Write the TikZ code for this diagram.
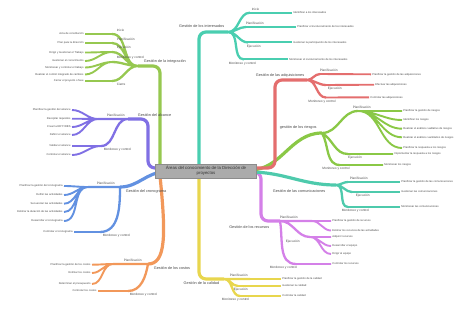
\documentclass[tikz,border=0pt]{standalone}
\usepackage{fontspec}
\setmainfont{Liberation Sans}
\usetikzlibrary{backgrounds}
\definecolor{IntegGreen}{RGB}{150,200,80}
\definecolor{ScopePurple}{RGB}{128,112,228}
\definecolor{TimeBlue}{RGB}{98,145,225}
\definecolor{CostOrange}{RGB}{242,152,90}
\definecolor{QualYellow}{RGB}{232,214,78}
\definecolor{ResMagenta}{RGB}{212,128,232}
\definecolor{CommTeal}{RGB}{78,202,172}
\definecolor{RiskGreen}{RGB}{138,200,70}
\definecolor{ProcRed}{RGB}{228,110,110}
\definecolor{StakeTeal}{RGB}{74,206,176}

\begin{document}
\begin{tikzpicture}[x=1pt, y=-1pt, line cap=round,
  leaftxt/.style={font=\fontsize{2.7}{3}\selectfont, text=black!72, inner sep=1.2pt},
  subtxt/.style={font=\fontsize{3.2}{3.6}\selectfont, text=black!70, inner sep=0.6pt},
  areatxt/.style={font=\fontsize{3.8}{4.4}\selectfont, text=black!72, inner sep=0.6pt},
  centerbox/.style={draw=black!45, fill=black!33, text=black!80, align=center, minimum width=101pt, minimum height=14pt, inner sep=1pt, font=\fontsize{4.3}{5}\selectfont},
  trunk/.style={line width=3.2pt, rounded corners=7pt}, twig/.style={line width=2.3pt}, leafln/.style={line width=1.9pt}]
\useasboundingbox (0,0) rectangle (474,309);
\node[centerbox] (ctr) at (206,171) {Áreas del conocimiento de la Dirección de\\proyectos};
% integracion
\coordinate (ig0) at (160,168); \coordinate (igh) at (138,66);
\node[areatxt, anchor=south west] (igL) at (143,64.4) {Gestión de la integración};
\coordinate (ig1) at (112,34); \coordinate (ig2) at (112,43); \coordinate (ig3) at (112,52); \coordinate (ig4) at (112,62); \coordinate (ig5) at (112,81);
\node[subtxt, anchor=south west] (igIn) at (116,32.4) {Inicio};
\node[subtxt, anchor=south west] (igPl) at (116,41.4) {Planificación};
\node[subtxt, anchor=south west] (igEj) at (116,50.4) {Ejecución};
\node[subtxt, anchor=south west] (igMo) at (116,60.4) {Monitoreo y control};
\node[subtxt, anchor=north west] (igCi) at (116,82.6) {Cierre};
\node[leaftxt, anchor=east] (igA) at (85,34) {Acta de constitución};
\node[leaftxt, anchor=east] (igB) at (85,43) {Plan para la dirección};
\node[leaftxt, anchor=east] (igC) at (85,52.5) {Dirigir y Gestionar el Trabajo};
\node[leaftxt, anchor=east] (igD) at (85,61) {Gestionar el conocimiento};
\node[leaftxt, anchor=east] (igE) at (85,67.5) {Monitorear y controlar el trabajo};
\node[leaftxt, anchor=east] (igF) at (85,74.5) {Realizar el control integrado de cambios};
\node[leaftxt, anchor=east] (igG) at (85,81) {Cerrar el proyecto o fase};
% alcance
\coordinate (al0) at (165,168); \coordinate (alh) at (128,119);
\node[areatxt, anchor=south west] (alL) at (137,117.4) {Gestión del alcance};
\coordinate (al1) at (98,119); \coordinate (al2) at (101,146);
\node[subtxt, anchor=south west] (alPl) at (106,117.4) {Planificación};
\node[subtxt, anchor=north west] (alMo) at (103,147.6) {Monitoreo y control};
\node[leaftxt, anchor=east] (alA) at (72,110) {Planificar la gestión del alcance};
\node[leaftxt, anchor=east] (alB) at (72,118.7) {Recopilar requisitos};
\node[leaftxt, anchor=east] (alC) at (72,127) {Crear la EDT/ WBS};
\node[leaftxt, anchor=east] (alD) at (72,135) {Definir el alcance};
\node[leaftxt, anchor=east] (alE) at (72,146) {Validar el alcance};
\node[leaftxt, anchor=east] (alF) at (72,155) {Controlar el alcance};
% cronograma
\coordinate (cr0) at (165,172); \coordinate (crh) at (120,187);
\node[areatxt, anchor=north west] (crL) at (125,188.6) {Gestión del cronograma};
\coordinate (cr1) at (88,187); \coordinate (cr2) at (100,232);
\node[subtxt, anchor=south west] (crPl) at (96,185.4) {Planificación};
\node[subtxt, anchor=north west] (crMo) at (102,233.6) {Monitoreo y control};
\node[leaftxt, anchor=east] (crA) at (64,186) {Planificar la gestión del cronograma};
\node[leaftxt, anchor=east] (crB) at (64,195) {Definir las actividades};
\node[leaftxt, anchor=east] (crC) at (64,203.7) {Secuenciar las actividades};
\node[leaftxt, anchor=east] (crD) at (64,212) {Estimar la duración de las actividades};
\node[leaftxt, anchor=east] (crE) at (64,221) {Desarrollar el cronograma};
\node[leaftxt, anchor=east] (crF) at (74,232) {Controlar el cronograma};
% costos
\coordinate (co0) at (160,176); \coordinate (coh) at (148,264);
\node[areatxt, anchor=north west] (coL) at (153,265.6) {Gestión de los costos};
\coordinate (co1) at (113,264); \coordinate (co2) at (128,291);
\node[subtxt, anchor=south west] (coPl) at (123,262.4) {Planificación};
\node[subtxt, anchor=north west] (coMo) at (129,292.6) {Monitoreo y control};
\node[leaftxt, anchor=east] (coA) at (92,264.7) {Planificar la gestión de los costos};
\node[leaftxt, anchor=east] (coB) at (92,273) {Estimar los costos};
\node[leaftxt, anchor=east] (coC) at (92,284) {Determinar el presupuesto};
\node[leaftxt, anchor=east] (coD) at (98,291) {Controlar los costos};
% calidad
\coordinate (ca0) at (199,172); \coordinate (cah) at (224,279);
\node[areatxt, anchor=north east] (caL) at (220,280.6) {Gestión de la calidad};
\coordinate (ca1) at (250,279); \coordinate (ca2) at (238,286); \coordinate (ca3) at (240,296);
\node[subtxt, anchor=south west] (caPl) at (229,277.4) {Planificación};
\node[subtxt, anchor=north west] (caEj) at (233,287.6) {Ejecución};
\node[subtxt, anchor=north east] (caMo) at (250,297.6) {Monitoreo y control};
\node[leaftxt, anchor=west] (caA) at (281,279) {Planificar la gestión de la calidad};
\node[leaftxt, anchor=west] (caB) at (281,286) {Gestionar la calidad};
\node[leaftxt, anchor=west] (caC) at (281,296) {Controlar la calidad};
% recursos
\coordinate (re0) at (245,172); \coordinate (reh) at (280,221);
\node[areatxt, anchor=north east] (reL) at (270,224.5) {Gestión de los recursos};
\coordinate (re1) at (312,221); \coordinate (re2) at (310,237); \coordinate (re3) at (296,264);
\node[subtxt, anchor=south west] (rePl) at (279,219.4) {Planificación};
\node[subtxt, anchor=north west] (reEj) at (285,239.6) {Ejecución};
\node[subtxt, anchor=north west] (reMo) at (269,265.6) {Monitoreo y control};
\node[leaftxt, anchor=west] (reA) at (331,221) {Planificar la gestión de recursos};
\node[leaftxt, anchor=west] (reB) at (331,230.5) {Estimar los recursos de las actividades};
\node[leaftxt, anchor=west] (reC) at (331,237) {Adquirir recursos};
\node[leaftxt, anchor=west] (reD) at (331,246) {Desarrollar el equipo};
\node[leaftxt, anchor=west] (reE) at (331,254) {Dirigir al equipo};
\node[leaftxt, anchor=west] (reF) at (331,264) {Controlar los recursos};
% comunicaciones
\coordinate (cm0) at (250,172); \coordinate (cmh) at (336,185);
\node[areatxt, anchor=north west] (cmL) at (272,188.6) {Gestión de las comunicaciones};
\coordinate (cm1) at (348,182); \coordinate (cm2) at (352,192); \coordinate (cm3) at (348,207);
\node[subtxt, anchor=south west] (cmPl) at (349,180.4) {Planificación};
\node[subtxt, anchor=north west] (cmEj) at (355,193.6) {Ejecución};
\node[subtxt, anchor=north west] (cmMo) at (341,208.6) {Monitoreo y control};
\node[leaftxt, anchor=west] (cmA) at (400,182) {Planificar la gestión de las comunicaciones};
\node[leaftxt, anchor=west] (cmB) at (400,192) {Gestionar las comunicaciones};
\node[leaftxt, anchor=west] (cmC) at (400,207) {Monitorear las comunicaciones};
% riesgos
\coordinate (ri0) at (250,170); \coordinate (rih) at (322,133);
\node[areatxt, anchor=south west] (riL) at (279,130) {gestión de los riesgos};
\coordinate (ri1) at (358,111); \coordinate (ri2) at (348,154); \coordinate (ri3) at (340,165);
\node[subtxt, anchor=south west] (riPl) at (352,109.4) {Planificación};
\node[subtxt, anchor=north] (riEj) at (355,155.6) {Ejecución};
\node[subtxt, anchor=north] (riMo) at (336,166.6) {Monitoreo y control};
\node[leaftxt, anchor=west] (riA) at (402,111) {Planificar la gestión de riesgos};
\node[leaftxt, anchor=west] (riB) at (402,120) {Identificar los riesgos};
\node[leaftxt, anchor=west] (riC) at (402,128.7) {Realizar el análisis cualitativo de riesgos};
\node[leaftxt, anchor=west] (riD) at (402,137.3) {Realizar el análisis cuantitativo de riesgos};
\node[leaftxt, anchor=west] (riE) at (402,148) {Planificar la respuesta a los riesgos};
\node[leaftxt, anchor=west] (riF) at (393,154) {Implementar la respuesta a los riesgos};
\node[leaftxt, anchor=west] (riG) at (383,165) {Monitorear los riesgos};
% adquisiciones
\coordinate (ad0) at (250,168); \coordinate (adh) at (307,80);
\node[areatxt, anchor=south east] (adL) at (305,78.4) {Gestión de las adquisiciones};
\coordinate (ad1) at (320,74); \coordinate (ad2) at (326,85); \coordinate (ad3) at (326,97.5);
\node[subtxt, anchor=south west] (adPl) at (319,72.4) {Planificación};
\node[subtxt, anchor=north west] (adEj) at (327,86.6) {Ejecución};
\node[subtxt, anchor=north] (adMo) at (322,99.1) {Monitoreo y control};
\node[leaftxt, anchor=west] (adA) at (371,74.3) {Planificar la gestión de las adquisiciones};
\node[leaftxt, anchor=west] (adB) at (374,84.7) {Efectuar las adquisiciones};
\node[leaftxt, anchor=west] (adC) at (369,97.3) {Controlar las adquisiciones};
% interesados
\coordinate (it0) at (199,168); \coordinate (ith) at (228,32);
\node[areatxt, anchor=south east] (itL) at (225,28.5) {Gestión de los interesados};
\coordinate (it1) at (250,12.7); \coordinate (it2) at (246,27); \coordinate (it3) at (248,42.4); \coordinate (it4) at (244,59.4);
\node[subtxt, anchor=south west] (itIn) at (251,11.1) {Inicio};
\node[subtxt, anchor=south west] (itPl) at (245,25.4) {Planificación};
\node[subtxt, anchor=north west] (itEj) at (246,44) {Ejecución};
\node[subtxt, anchor=north] (itMo) at (242.5,61) {Monitoreo y control};
\node[leaftxt, anchor=west] (itA) at (292,12.7) {Identificar a los interesados};
\node[leaftxt, anchor=west] (itB) at (296,27) {Planificar el involucramiento de los interesados};
\node[leaftxt, anchor=west] (itC) at (292,42.4) {Gestionar la participación de los interesados};
\node[leaftxt, anchor=west] (itD) at (288,59.4) {Monitorear el involucramiento de los interesados};
\begin{scope}[on background layer]
\draw[trunk, IntegGreen] (ig0) |- (igh);
\draw[twig, IntegGreen] (igh) to[out=180, in=0] (ig1) (igh) to[out=180, in=0] (ig2) (igh) to[out=180, in=0] (ig3) (igh) to[out=180, in=0] (ig4) (igh) to[out=180, in=0] (ig5);
\draw[leafln, IntegGreen] (ig1) -- (igA.east) (ig2) -- (igB.east) (ig3) to[out=180, in=0] (igC.east) (ig3) to[out=180, in=0] (igD.east) (ig4) to[out=180, in=0] (igE.east) (ig4) to[out=180, in=0] (igF.east) (ig5) -- (igG.east);
\draw[trunk, ScopePurple] (al0) -- ++(-17,0) |- (alh);
\draw[twig, ScopePurple] (alh) -- (al1) (alh) to[out=180, in=0] (al2);
\draw[leafln, ScopePurple] (al1) to[out=180, in=0] (alA.east) (al1) to[out=180, in=0] (alB.east) (al1) to[out=180, in=0] (alC.east) (al1) to[out=180, in=0] (alD.east) (al2) -- (alE.east) (al2) to[out=180, in=0] (alF.east);
\draw[trunk, TimeBlue] (cr0) to[out=180, in=0] (crh);
\draw[twig, TimeBlue] (crh) -- (cr1) (crh) to[out=-90, in=0] (cr2);
\draw[leafln, TimeBlue] (cr1) to[out=180, in=0] (crA.east) (cr1) to[out=180, in=0] (crB.east) (cr1) to[out=180, in=0] (crC.east) (cr1) to[out=180, in=0] (crD.east) (cr1) to[out=180, in=0] (crE.east) (cr2) -- (crF.east);
\draw[trunk, CostOrange] (co0) .. controls (166,235) and (166,264) .. (coh);
\draw[twig, CostOrange] (coh) -- (co1) (coh) to[out=-100, in=0] (co2);
\draw[leafln, CostOrange] (co1) to[out=180, in=0] (coA.east) (co1) to[out=180, in=0] (coB.east) (co1) to[out=180, in=0] (coC.east) (co2) -- (coD.east);
\draw[trunk, QualYellow] (ca0) |- (cah);
\draw[twig, QualYellow] (cah) -- (ca1) (cah) to[out=0, in=180] (ca2) (cah) to[out=0, in=180] (ca3);
\draw[leafln, QualYellow] (ca1) -- (caA.west) (ca2) -- (caB.west) (ca3) -- (caC.west);
\draw[trunk, ResMagenta] (re0) -- ++(16,0) |- (reh);
\draw[twig, ResMagenta] (reh) -- (re1) (reh) to[out=0, in=180] (re2) (reh) to[out=-80, in=180] (re3);
\draw[leafln, ResMagenta] (re1) -- (reA.west) (re1) to[out=0, in=180] (reB.west) (re2) -- (reC.west) (re2) to[out=0, in=180] (reD.west) (re2) to[out=0, in=180] (reE.west) (re3) -- (reF.west);
\draw[trunk, CommTeal] (cm0) to[out=0, in=180] (cmh);
\draw[twig, CommTeal] (cmh) to[out=0, in=180] (cm1) (cmh) to[out=0, in=180] (cm2) (cmh) to[out=0, in=180] (cm3);
\draw[leafln, CommTeal] (cm1) -- (cmA.west) (cm2) -- (cmB.west) (cm3) -- (cmC.west);
\draw[trunk, RiskGreen] (ri0) to[out=0, in=180] (rih);
\draw[twig, RiskGreen] (rih) to[out=0, in=180] (ri1) (rih) to[out=-30, in=180] (ri2) (rih) to[out=-60, in=180] (ri3);
\draw[leafln, RiskGreen] (ri1) -- (riA.west) (ri1) to[out=0, in=180] (riB.west) (ri1) to[out=0, in=180] (riC.west) (ri1) to[out=0, in=180] (riD.west) (ri1) to[out=0, in=180] (riE.west) (ri2) -- (riF.west) (ri3) -- (riG.west);
\draw[trunk, ProcRed] (ad0) -- ++(25,0) |- (adh);
\draw[twig, ProcRed] (adh) to[out=0, in=180] (ad1) (adh) to[out=0, in=180] (ad2) (adh) to[out=0, in=180] (ad3);
\draw[leafln, ProcRed] (ad1) -- (adA.west) (ad2) -- (adB.west) (ad3) -- (adC.west);
\draw[trunk, StakeTeal] (it0) |- (ith);
\draw[twig, StakeTeal] (ith) to[out=0, in=180] (it1) (ith) to[out=0, in=180] (it2) (ith) to[out=0, in=180] (it3) (ith) to[out=0, in=180] (it4);
\draw[leafln, StakeTeal] (it1) -- (itA.west) (it2) -- (itB.west) (it3) -- (itC.west) (it4) -- (itD.west);
\end{scope}
\end{tikzpicture}
\end{document}
